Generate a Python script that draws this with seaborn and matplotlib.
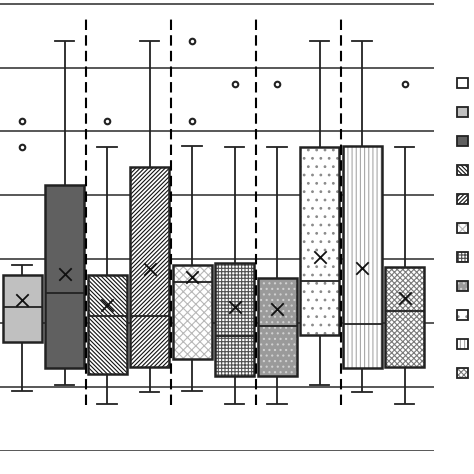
import numpy as np
import pandas as pd
import matplotlib
matplotlib.use("Agg")
import matplotlib.pyplot as plt
import matplotlib.patches as mpatches
import matplotlib.colors as mcolors
import seaborn as sns

# =========================
# Data (in grid units)
# =========================
box_labels = ["B1", "B2", "B3", "B4", "B5", "B6", "B7", "B8", "B9", "B10"]
group_sizes = [2, 2, 2, 2, 2]

whisker_low = [0.94, 1.03, 0.73, 0.93, 0.94, 0.73, 0.73, 1.03, 0.93, 0.73]
q1 = [1.70, 1.30, 1.21, 1.32, 1.44, 1.17, 1.18, 1.81, 1.30, 1.32]
median = [2.25, 2.47, 2.12, 2.12, 2.64, 1.80, 1.96, 2.66, 1.98, 2.19]
q3 = [2.75, 4.16, 2.75, 4.45, 2.91, 2.94, 2.71, 4.75, 4.78, 2.88]
whisker_high = [2.91, 6.41, 4.75, 6.41, 4.78, 4.75, 4.75, 6.41, 6.41, 4.75]
means = [2.36, 2.77, 2.28, 2.85, 2.72, 2.25, 2.22, 3.04, 2.86, 2.40]
outliers = [[4.75, 5.16], [], [5.16], [], [5.16, 6.41],
            [5.75], [5.75], [], [], [5.75]]

# legend has one extra (empty, white) entry in front
legend_faces = ["white", "#c0c0c0", "#606060", "white", "white", "white",
                "white", "#9a9a9a", "white", "white", "white"]
legend_hatches = [None, None, None, "\\\\\\\\\\\\\\\\", "////////", "xxxx",
                  "+++++", "...", "..", "||||", "xxxxxx"]
legend_hatch_colors = ["black", "black", "black", "#111111", "#111111",
                       "#b8b8b8", "#505050", "#d0d0d0", "#8a8a8a", "#a8a8a8",
                       "#7a7a7a"]

box_faces = legend_faces[1:]
box_hatches = legend_hatches[1:]
box_hatch_colors = legend_hatch_colors[1:]

plt.rcParams["hatch.linewidth"] = 0.8


def set_hatch_color(patch, color):
    try:
        patch.set_hatchcolor(color)
    except AttributeError:
        patch._hatch_color = mcolors.to_rgba(color)


# =========================
# Build samples that reproduce the box statistics
# =========================
rows = []
for i, lab in enumerate(box_labels):
    extra = sorted(outliers[i])
    top = [q3[i]] * (2 - len(extra)) + [whisker_high[i]] + extra
    sample = ([whisker_low[i]] + [q1[i]] * 3 + [median[i]] * 3
              + [q3[i]] * 3 + top)
    for v in sample:
        rows.append({"box": lab, "value": v})

df = pd.DataFrame(rows)

# =========================
# Plot
# =========================
fig = plt.figure(figsize=(4.74, 4.74), dpi=100)
ax = fig.add_axes([0.0, 23 / 474, 434 / 474, 448 / 474])

sns.boxplot(
    data=df,
    x="box",
    y="value",
    hue="box",
    order=box_labels,
    hue_order=box_labels,
    palette=dict(zip(box_labels, box_faces)),
    saturation=1,
    legend=False,
    width=0.92,
    whis=1.5,
    linewidth=1.3,
    linecolor="#222222",
    fliersize=4,
    flierprops=dict(marker="o", markerfacecolor="white",
                    markeredgecolor="#222222", markeredgewidth=1.5),
    ax=ax
)

# hatches on boxes (match by box centre)
for p in ax.patches:
    verts = p.get_path().vertices
    idx = int(round(verts[:, 0].mean()))
    if 0 <= idx < len(box_labels):
        p.set_edgecolor("#222222")
        p.set_linewidth(1.8)
        if box_hatches[idx]:
            p.set_hatch(box_hatches[idx])
            set_hatch_color(p, box_hatch_colors[idx])

# means
sns.scatterplot(
    x=np.arange(len(means)),
    y=means,
    marker="x",
    color="#111111",
    s=80,
    linewidth=1.3,
    zorder=6,
    ax=ax
)

# group separators
bounds = np.cumsum(group_sizes)[:-1] - 0.5
ax.vlines(bounds, 0.72, 6.81, colors="black", linewidth=1.5,
          linestyles=(0, (5, 2.5)), zorder=7)

# =========================
# Axes style
# =========================
ax.set_xlim(-0.52, 9.69)
ax.set_ylim(0, 7.01)
ax.set_yticks(np.arange(0, 8))
ax.grid(axis="y", color="#4a4a4a", linewidth=1.3)
ax.grid(axis="x", visible=False)
ax.set_axisbelow(True)
ax.tick_params(length=0, labelleft=False, labelbottom=False)
ax.set_xlabel("")
ax.set_ylabel("")
for s in ax.spines.values():
    s.set_visible(False)

# =========================
# Legend (symbols only)
# =========================
handles = []
for fc, h, hc in zip(legend_faces, legend_hatches, legend_hatch_colors):
    hp = mpatches.Patch(facecolor=fc, edgecolor="#222222", hatch=h,
                        linewidth=1.3)
    set_hatch_color(hp, hc)
    handles.append(hp)

leg = fig.legend(
    handles,
    [""] * len(handles),
    loc="upper left",
    bbox_to_anchor=(457 / 474, 1 - 77 / 474),
    frameon=False,
    fontsize=10,
    handlelength=0.8,
    handleheight=0.8,
    handletextpad=0,
    labelspacing=1.08,
    borderpad=0,
    borderaxespad=0
)
for lh, hc in zip(leg.legend_handles, legend_hatch_colors):
    set_hatch_color(lh, hc)

fig.savefig("out.png", dpi=100)
